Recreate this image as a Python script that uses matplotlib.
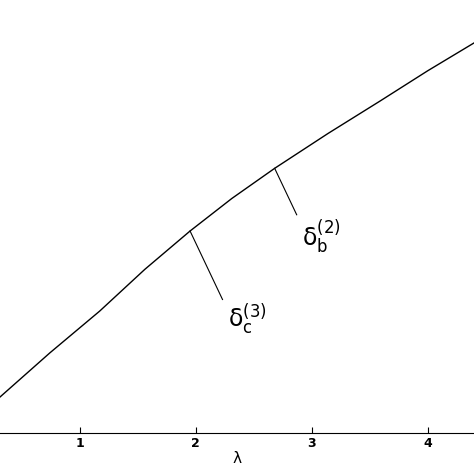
import numpy as np
import matplotlib
matplotlib.use("Agg")
import matplotlib.pyplot as plt

# curve (lambda, value)
lam = [0.31, 0.74, 1.17, 1.56, 1.95, 2.31, 2.68, 3.14, 3.59, 4.0, 4.4]
val = [0.31, 0.69, 1.05, 1.41, 1.74, 2.02, 2.28, 2.58, 2.86, 3.12, 3.36]

# markers for the two labelled points
marks = [(1.95, 1.74, r"$\mathregular{\delta_c^{(3)}}$", 2.23, 1.15),
         (2.68, 2.28, r"$\mathregular{\delta_b^{(2)}}$", 2.87, 1.88)]
xticks = [1, 2, 3, 4]

fig = plt.figure(figsize=(4.74, 4.74), dpi=100)
ax = fig.add_axes([0, 0.0865, 1, 0.9135])
ax.plot(lam, val, color="black", lw=1)
for x0, y0, lab, x1, y1 in marks:
    ax.plot([x0, x1], [y0, y1], color="black", lw=0.8)
    ax.text(x1 + 0.05, y1 - 0.02, lab, fontsize=17, ha="left", va="top")

ax.set_xlim(0.31, 4.4)
ax.set_ylim(0, 3.73)
ax.set_xticks(xticks)
ax.set_xticklabels([str(t) for t in xticks], fontweight="bold", fontsize=9)
ax.tick_params(axis="x", direction="in", length=4, pad=3)
ax.set_yticks([])
for s in ["top", "right", "left"]:
    ax.spines[s].set_visible(False)
ax.set_xlabel(r"$\mathregular{\lambda}$", fontsize=11, labelpad=0)
fig.savefig("out.png", dpi=100)
